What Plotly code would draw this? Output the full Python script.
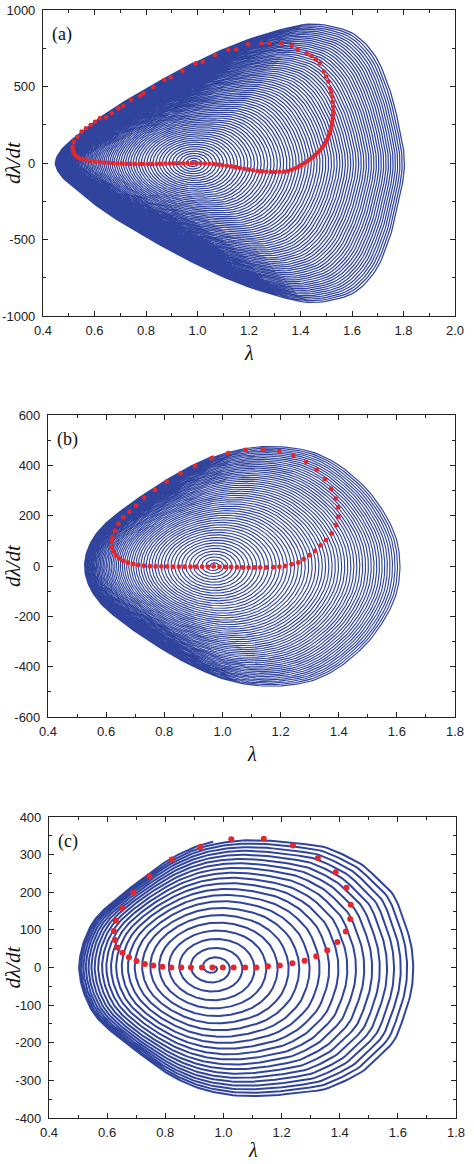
import numpy as np
import plotly.graph_objects as go

W, H = 474, 1164

# ---------------- data ----------------
# Outer orbit (upper half, left tip -> right tip) of each panel
a_outer_lam = [0.447, 0.451, 0.46, 0.474, 0.495, 0.525, 0.565, 0.62, 0.70, 0.80, 0.90, 1.00, 1.10,
               1.20, 1.30, 1.38, 1.44, 1.52, 1.618, 1.70, 1.75, 1.775, 1.795, 1.806, 1.81]
a_outer_rate = [0, 30, 60, 92, 128, 170, 222, 295, 385, 485, 580, 668, 748,
                815, 868, 903, 917, 905, 848, 700, 500, 350, 190, 95, 0]
b_outer_lam = [0.525, 0.528, 0.537, 0.552, 0.572, 0.60, 0.64, 0.68, 0.73, 0.79, 0.86, 0.93, 1.00,
               1.08, 1.164, 1.25, 1.324, 1.40, 1.473, 1.52, 1.565, 1.595, 1.611, 1.617]
b_outer_rate = [0, 35, 70, 105, 138, 172, 210, 245, 285, 330, 378, 418, 450,
                472, 481, 474, 454, 410, 342, 285, 209, 140, 77, 0]
c_outer_lam = [0.502, 0.506, 0.515, 0.53, 0.55, 0.58, 0.62, 0.66, 0.70, 0.745, 0.82, 0.92, 1.03,
               1.13, 1.23, 1.30, 1.37, 1.48, 1.54, 1.60, 1.635, 1.66, 1.668]
c_outer_rate = [0, 30, 60, 90, 120, 148, 175, 200, 224, 250, 290, 325, 343,
                346, 341, 335, 325, 285, 245, 197, 130, 65, 0]

# equilibrium (spiral centre), small-oscillation rate/stretch ratio, number of turns, growth
centers = [0.984, 0.97, 0.965]
ratios = [1090, 800, 590]
turns = [72, 56, 22]
growth = [1.0, 1.0, 1.3]

# Red dotted trajectory of each panel
a_dot_lam = [1.327, 1.279, 1.249, 1.197, 1.150, 1.120, 1.068, 1.020, 0.993, 0.942, 0.896, 0.871,
             0.828, 0.790, 0.777, 0.742, 0.712, 0.693, 0.667, 0.645, 0.621, 0.602, 0.585, 0.567,
             0.550, 0.533, 0.520, 0.515, 0.516, 0.518, 0.523, 0.531, 0.541, 0.553, 0.570, 0.585,
             0.602, 0.621, 0.638, 0.655, 0.672, 0.689, 0.706, 0.723, 0.740, 0.757, 0.774, 0.791,
             0.808, 0.825, 0.842, 0.859, 0.876, 0.893, 0.910, 0.927, 0.944, 0.961, 0.978, 0.995,
             1.012, 1.029, 1.046, 1.063, 1.080, 1.097, 1.114, 1.131, 1.148, 1.165, 1.182, 1.199,
             1.216, 1.233, 1.250, 1.267, 1.284, 1.301, 1.318, 1.335, 1.351, 1.366, 1.380, 1.393,
             1.405, 1.417, 1.428, 1.439, 1.449, 1.458, 1.467, 1.475, 1.483, 1.490, 1.496, 1.502,
             1.507, 1.511, 1.515, 1.518, 1.521, 1.523, 1.525, 1.526, 1.527, 1.527, 1.525, 1.523,
             1.519, 1.515, 1.508, 1.500, 1.491, 1.476, 1.460, 1.443, 1.424, 1.389, 1.366]
a_dot_rate = [782, 782, 782, 776, 743, 739, 706, 662, 651, 603, 560, 542,
              495, 455, 438, 412, 373, 357, 325, 298, 292, 270, 248, 227,
              205, 172, 139, 107, 90, 74, 57, 41, 31, 24, 18, 13,
              9, 5, 3, 1, -1, -3, -4, -5, -6, -7, -7, -7,
              -7, -6, -6, -5, -4, -3, -3, -2, -2, -1, -1, -1,
              -2, -3, -5, -7, -10, -14, -18, -22, -27, -32, -38, -43,
              -48, -52, -55, -57, -58, -59, -58, -56, -52, -44, -35, -24,
              -12, 0, 13, 27, 40, 54, 68, 82, 98, 114, 130, 148,
              166, 185, 205, 225, 245, 268, 290, 315, 340, 368, 400, 434,
              462, 488, 532, 565, 597, 651, 678, 700, 717, 743, 765]
b_dot_lam = [0.642, 0.630, 0.622, 0.619, 0.620, 0.625, 0.634, 0.645, 0.659, 0.675, 0.692, 0.710,
             0.730, 0.750, 0.770, 0.790, 0.810, 0.830, 0.850, 0.870, 0.890, 0.910, 0.930, 0.950,
             0.970, 0.990, 1.010, 1.030, 1.050, 1.070, 1.090, 1.110, 1.130, 1.150, 1.175, 1.196,
             1.215, 1.238, 1.261, 1.280, 1.300, 1.319, 1.338, 1.356, 1.376, 1.391, 1.399, 1.398,
             1.390, 1.374, 1.353, 1.324, 1.288, 1.244, 1.196, 1.139, 1.080, 1.020, 0.963, 0.906,
             0.856, 0.808, 0.768, 0.731, 0.703, 0.680, 0.659]
b_dot_rate = [167, 140, 115, 95, 75, 58, 42, 30, 20, 13, 8, 4,
              1, -1, -2, -2, -2, -3, -3, -3, -3, -3, -3, -3,
              -2, -3, -4, -4, -5, -6, -6, -6, -6, -6, -5, -3,
              0, 7, 14, 27, 43, 60, 82, 103, 130, 163, 196, 233,
              268, 306, 345, 382, 414, 438, 456, 463, 461, 448, 428, 397,
              368, 335, 302, 271, 240, 216, 194]
c_dot_lam = [0.635, 0.627, 0.623, 0.630, 0.651, 0.690, 0.745, 0.822, 0.920, 1.027, 1.139, 1.239,
             1.325, 1.386, 1.423, 1.438, 1.436, 1.421, 1.392, 1.357, 1.319, 1.279, 1.237, 1.194,
             1.153, 1.113, 1.075, 1.035, 0.998, 0.962, 0.926, 0.888, 0.855, 0.821, 0.790, 0.759,
             0.730, 0.701, 0.675, 0.653]
c_dot_rate = [53, 73, 97, 124, 158, 199, 243, 287, 320, 341, 342, 324,
              291, 253, 212, 167, 129, 96, 68, 46, 30, 18, 11, 5,
              3, 0, 0, 0, 0, 0, 0, 0, 0, 0, 2, 5,
              9, 17, 27, 39]

# axes
x_ranges = [[0.4, 2.0], [0.4, 1.8], [0.4, 1.8]]
x_ticks = [[0.4, 0.6, 0.8, 1.0, 1.2, 1.4, 1.6, 1.8, 2.0],
           [0.4, 0.6, 0.8, 1.0, 1.2, 1.4, 1.6, 1.8],
           [0.4, 0.6, 0.8, 1.0, 1.2, 1.4, 1.6, 1.8]]
y_ranges = [[-1000, 1000], [-600, 600], [-400, 400]]
y_ticks = [[-1000, -500, 0, 500, 1000],
           [-600, -400, -200, 0, 200, 400, 600],
           [-400, -300, -200, -100, 0, 100, 200, 300, 400]]
y_minor = [250, 100, 50]
panel_labels = ["(a)", "(b)", "(c)"]

# ---------------- layout geometry (pixels) ----------------
boxes = [(43, 455, 10, 316), (48, 455, 415, 717), (49, 456, 817, 1118)]  # left, right, top, bottom
xtitle_gap = [37, 37, 32]
BLUE = "#30449e"
RED = "#e5262b"
line_w = [1.25, 1.15, 2.0]
dot_size = [4.6, 4.8, 6.0]


def catmull_closed(x, y, sub=24):
    n = len(x)
    ox, oy = [], []
    t = np.linspace(0, 1, sub, endpoint=False)
    for i in range(n):
        p0 = np.array([x[i - 1], y[i - 1]])
        p1 = np.array([x[i], y[i]])
        p2 = np.array([x[(i + 1) % n], y[(i + 1) % n]])
        p3 = np.array([x[(i + 2) % n], y[(i + 2) % n]])
        for tt in t:
            v = 0.5 * ((2 * p1) + (-p0 + p2) * tt + (2 * p0 - 5 * p1 + 4 * p2 - p3) * tt ** 2
                       + (-p0 + 3 * p1 - 3 * p2 + p3) * tt ** 3)
            ox.append(v[0])
            oy.append(v[1])
    return np.array(ox), np.array(oy)


def spiral(lam_up, rate_up, lc, k, n_turns, g, p=1.5, ppt=320):
    lam_up = np.asarray(lam_up, float)
    rate_up = np.asarray(rate_up, float)
    lam = np.concatenate([lam_up, lam_up[-2:0:-1]])
    rate = np.concatenate([rate_up, -rate_up[-2:0:-1]])
    X, Y = catmull_closed(k * (lam - lc), rate)
    phi = np.arctan2(Y, X)
    r = np.hypot(X, Y)
    order = np.argsort(phi)
    grid = np.linspace(-np.pi, np.pi, 1441)[:-1]
    rg = np.interp(grid, phi[order], r[order], period=2 * np.pi)
    R0 = rg.mean()
    theta = np.linspace(0, 2 * np.pi * n_turns, int(n_turns * ppt))
    n = theta / (2 * np.pi)
    amp = (1 - np.exp(-g * n / n_turns)) / (1 - np.exp(-g))
    ph = np.pi / 2 - theta
    pw = (ph + np.pi) % (2 * np.pi) - np.pi
    ro = np.interp(pw, grid, rg, period=2 * np.pi)
    w = amp ** p
    rr = amp * (w * ro + (1 - w) * R0)
    return lc + rr * np.cos(ph) / k, rr * np.sin(ph)


outers = [(a_outer_lam, a_outer_rate), (b_outer_lam, b_outer_rate), (c_outer_lam, c_outer_rate)]
dots = [(a_dot_lam, a_dot_rate), (b_dot_lam, b_dot_rate), (c_dot_lam, c_dot_rate)]

SERIF = "Liberation Serif, Times New Roman, serif"
fig = go.Figure()
annotations = []
for i in range(3):
    xa = "x" if i == 0 else f"x{i + 1}"
    ya = "y" if i == 0 else f"y{i + 1}"
    sl, sr = spiral(outers[i][0], outers[i][1], centers[i], ratios[i], turns[i], growth[i])
    fig.add_trace(go.Scatter(x=sl, y=sr, mode="lines", line=dict(color=BLUE, width=line_w[i]),
                             xaxis=xa, yaxis=ya, hoverinfo="skip", showlegend=False))
    fig.add_trace(go.Scatter(x=dots[i][0], y=dots[i][1], mode="markers",
                             marker=dict(color=RED, size=dot_size[i], line=dict(width=0)),
                             xaxis=xa, yaxis=ya, hoverinfo="skip", showlegend=False))
    l, r, t, b = boxes[i]
    xd = [l / W, r / W]
    yd = [(H - b) / H, (H - t) / H]
    common = dict(showline=True, linecolor="#222222", linewidth=1.1, mirror="allticks",
                  ticks="inside", ticklen=5, tickwidth=1, tickcolor="#222222",
                  showgrid=False, zeroline=False, automargin=False,
                  tickfont=dict(family="Liberation Sans, Arial, sans-serif", size=13, color="#222222"))
    key = "" if i == 0 else str(i + 1)
    fig.update_layout(**{
        f"xaxis{key}": dict(domain=xd, range=x_ranges[i], anchor=ya,
                            tickvals=x_ticks[i], ticktext=[f"{v:.1f}" for v in x_ticks[i]],
                            ticklabelstandoff=2,
                            minor=dict(ticks="inside", ticklen=3, dtick=0.1, tick0=0.4,
                                       tickcolor="#222222", showgrid=False),
                            **common),
        f"yaxis{key}": dict(domain=yd, range=y_ranges[i], anchor=xa,
                            tickvals=y_ticks[i], ticktext=[str(v) for v in y_ticks[i]],
                            ticklabelstandoff=4,
                            minor=dict(ticks="inside", ticklen=3, dtick=y_minor[i],
                                       tick0=0, tickcolor="#222222", showgrid=False),
                            **common),
    })
    annotations.append(dict(text=panel_labels[i], x=(l + 19) / W, y=(H - (t + 24)) / H,
                            xanchor="center", yanchor="middle",
                            xref="paper", yref="paper", showarrow=False,
                            font=dict(family=SERIF, size=18, color="#111111")))
    annotations.append(dict(text="<i>dλ/dt</i>", x=13 / W, y=(H - (t + b) / 2) / H, textangle=-90,
                            xanchor="center", yanchor="middle",
                            xref="paper", yref="paper", showarrow=False,
                            font=dict(family=SERIF, size=21, color="#111111")))
    annotations.append(dict(text="<i>λ</i>", x=((l + r) / 2) / W, y=(H - (b + xtitle_gap[i])) / H,
                            xanchor="center", yanchor="middle",
                            xref="paper", yref="paper", showarrow=False,
                            font=dict(family=SERIF, size=20, color="#111111")))

fig.update_layout(width=W, height=H, margin=dict(l=0, r=0, t=0, b=0),
                  paper_bgcolor="white", plot_bgcolor="white", annotations=annotations)
fig.write_html("out.html", config={"displayModeBar": False})
